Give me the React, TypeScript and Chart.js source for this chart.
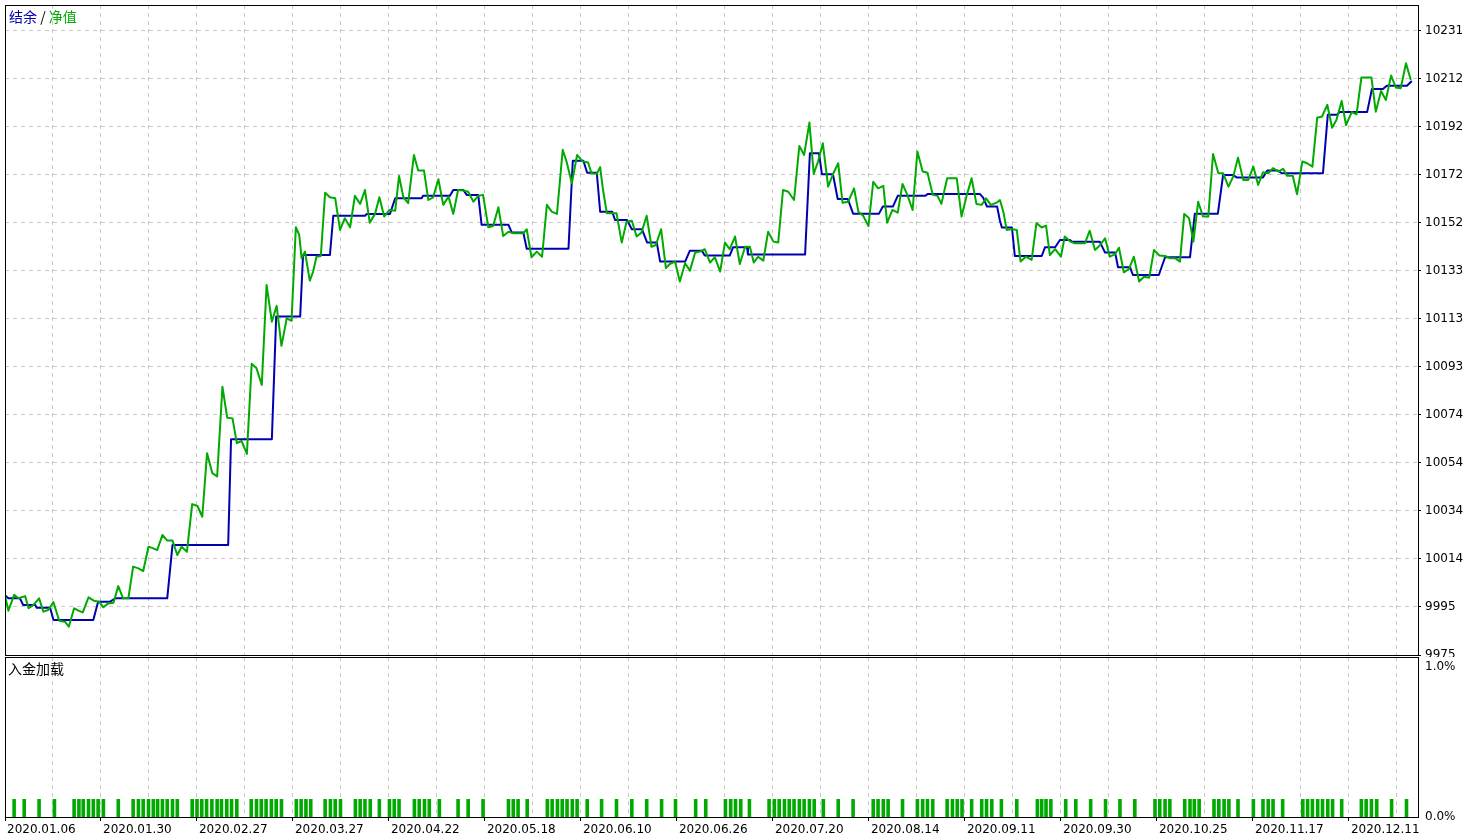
import React, { useEffect, useRef } from "react";
import { Chart, registerables } from "chart.js";

Chart.register(...registerables);

// ---------- data ----------
const dateLabels = [
  "2020.01.06", "2020.01.30", "2020.02.27", "2020.03.27", "2020.04.22",
  "2020.05.18", "2020.06.10", "2020.06.26", "2020.07.20", "2020.08.14",
  "2020.09.11", "2020.09.30", "2020.10.25", "2020.11.17", "2020.12.11",
];
const yTickLabels = [
  "9975", "9995", "10014", "10034", "10054", "10074", "10093",
  "10113", "10133", "10152", "10172", "10192", "10212", "10231",
];
const yTickStart = 9975.4;
const yTickStep = 19.72;
const yMax = 10242.4;
const loadTickLabels = ["0.0%", "1.0%"];
const tMax = 294.4; // time slots on the x axis
const depositLoadPct = 0.12;

// equity (净值): time slot, value
const equityT = [
  0.0, 0.7, 1.9, 2.8, 4.2, 4.9, 5.9, 7.1, 8.0, 9.0, 10.1, 11.3, 12.5, 13.3, 14.4, 15.3, 16.2, 17.4, 18.5, 19.6,
  20.5, 21.5, 22.6, 23.6, 24.6, 25.7, 26.7, 27.8, 28.8, 29.9, 30.9, 31.7, 32.8, 33.8, 34.9, 35.9, 36.8, 37.9, 39.0, 40.1,
  41.1, 42.1, 43.2, 44.2, 45.3, 46.3, 47.4, 48.3, 49.3, 50.4, 51.4, 52.4, 53.5, 54.5, 55.6, 56.6, 57.6, 58.7, 59.7, 60.6,
  61.3, 61.8, 62.5, 63.5, 64.2, 64.9, 65.8, 66.7, 67.7, 68.8, 69.8, 70.8, 71.9, 72.9, 74.0, 75.0, 76.0, 77.1, 78.0, 79.0,
  80.1, 81.3, 82.1, 83.0, 84.0, 85.2, 86.1, 87.3, 88.2, 89.2, 90.3, 91.3, 92.4, 93.4, 94.4, 95.5, 96.5, 97.6, 98.6, 99.6,
  100.7, 101.7, 102.8, 103.8, 104.9, 105.9, 106.9, 108.0, 108.7, 109.7, 110.8, 111.9, 112.9, 113.9, 115.0, 116.2, 117.0, 118.1, 119.2, 120.4,
  121.5, 122.2, 123.3, 124.0, 124.6, 125.4, 126.4, 127.4, 128.5, 129.5, 130.6, 131.6, 132.6, 133.7, 134.7, 135.6, 136.7, 137.7, 138.5, 139.6,
  140.6, 141.7, 142.7, 143.8, 144.8, 145.8, 146.9, 147.9, 149.0, 150.0, 151.0, 152.1, 153.1, 154.2, 155.2, 156.0, 156.9, 158.0, 159.0, 160.1,
  161.1, 162.1, 163.2, 164.4, 165.5, 166.5, 167.6, 168.5, 169.4, 170.4, 171.5, 172.6, 173.6, 174.5, 175.7, 176.9, 177.8, 178.8, 179.9, 180.9,
  181.9, 183.0, 183.8, 184.9, 186.0, 187.0, 188.0, 189.1, 190.1, 191.2, 192.2, 193.3, 194.3, 195.1, 196.3, 197.3, 198.3, 199.3, 200.4, 201.4,
  202.4, 203.5, 204.4, 205.4, 206.6, 207.3, 208.0, 208.7, 209.7, 210.8, 211.6, 212.7, 213.9, 214.9, 216.0, 216.9, 217.7, 218.8, 220.0, 220.8,
  222.0, 222.9, 224.0, 225.0, 226.0, 227.1, 228.1, 229.2, 230.2, 231.3, 232.1, 233.1, 234.2, 235.2, 236.3, 237.3, 238.4, 239.4, 240.5, 241.7,
  242.7, 243.8, 244.8, 245.7, 246.7, 247.6, 248.6, 249.6, 250.7, 251.7, 252.8, 253.8, 254.9, 255.9, 256.9, 258.0, 259.0, 260.1, 261.1, 262.1,
  263.2, 264.2, 265.3, 266.3, 267.1, 268.3, 269.2, 270.3, 271.3, 272.4, 273.4, 274.4, 275.5, 276.5, 277.4, 278.5, 279.4, 280.6, 281.6, 282.6,
  283.6, 284.7, 285.6, 286.7, 287.7, 288.8, 289.8, 290.8, 291.9, 292.9,
];
const equityValues = [
  10000.0, 9993.6, 10000.1, 9998.7, 9999.6, 9994.6, 9995.9, 9998.7, 9993.2, 9993.9, 9997.1, 9989.5, 9989.1, 9987.0, 9994.6, 9993.6, 9992.9, 9999.1, 9997.7, 9997.3,
  9995.0, 9996.6, 9996.9, 10003.7, 9998.7, 9998.7, 10011.7, 10011.0, 10009.9, 10019.9, 10019.2, 10018.5, 10024.7, 10022.4, 10022.4, 10016.5, 10019.9, 10017.8, 10037.4, 10036.6,
  10032.2, 10058.3, 10050.1, 10048.7, 10085.6, 10072.9, 10072.6, 10062.4, 10063.3, 10058.0, 10095.0, 10093.2, 10086.3, 10127.4, 10112.3, 10118.8, 10102.4, 10113.7, 10112.7, 10151.1,
  10148.0, 10138.4, 10141.1, 10129.2, 10132.9, 10139.0, 10139.3, 10165.3, 10163.4, 10163.0, 10150.0, 10154.8, 10151.1, 10164.0, 10160.7, 10166.4, 10153.0, 10156.6, 10163.4, 10155.5,
  10158.2, 10157.9, 10172.2, 10163.4, 10161.0, 10180.8, 10174.4, 10174.4, 10162.3, 10163.4, 10170.8, 10160.3, 10163.7, 10156.6, 10166.4, 10166.2, 10165.7, 10161.6, 10164.0, 10164.4,
  10151.1, 10151.6, 10159.3, 10147.5, 10149.3, 10148.6, 10148.6, 10148.6, 10150.3, 10138.8, 10141.1, 10139.0, 10160.3, 10157.5, 10156.6, 10182.9, 10178.1, 10169.2, 10180.8, 10178.1,
  10177.7, 10173.3, 10173.0, 10175.8, 10166.4, 10156.9, 10156.9, 10156.9, 10144.8, 10153.4, 10153.8, 10147.3, 10148.9, 10155.8, 10143.1, 10143.8, 10150.3, 10134.3, 10136.0, 10137.0,
  10128.8, 10136.3, 10133.3, 10140.7, 10141.1, 10142.1, 10136.6, 10138.8, 10132.9, 10144.8, 10142.1, 10147.3, 10136.0, 10143.1, 10143.1, 10136.6, 10139.0, 10137.4, 10149.3, 10145.2,
  10144.8, 10166.4, 10165.7, 10162.3, 10184.5, 10180.8, 10194.1, 10173.0, 10178.1, 10185.6, 10167.8, 10173.3, 10177.4, 10161.2, 10161.6, 10167.1, 10157.5, 10155.8, 10151.6, 10169.8,
  10167.1, 10168.1, 10153.0, 10158.2, 10157.1, 10168.9, 10164.4, 10158.2, 10182.2, 10174.0, 10173.5, 10164.4, 10164.0, 10160.7, 10171.2, 10171.2, 10171.2, 10155.5, 10164.4, 10171.2,
  10160.7, 10160.3, 10163.0, 10160.3, 10161.2, 10162.3, 10157.5, 10150.0, 10150.4, 10150.0, 10137.0, 10139.0, 10137.7, 10152.8, 10151.0, 10151.8, 10139.7, 10142.1, 10139.0, 10147.3,
  10145.2, 10144.5, 10144.5, 10144.5, 10149.7, 10141.8, 10143.6, 10146.6, 10139.0, 10140.1, 10142.7, 10132.6, 10134.0, 10139.0, 10128.8, 10130.8, 10130.4, 10141.8, 10139.5, 10139.3,
  10138.4, 10138.4, 10137.0, 10156.6, 10154.8, 10145.2, 10161.6, 10155.5, 10155.5, 10181.2, 10173.3, 10173.3, 10167.8, 10171.9, 10179.7, 10170.5, 10170.5, 10176.0, 10168.5, 10173.7,
  10173.3, 10175.4, 10174.0, 10175.1, 10172.3, 10172.3, 10164.7, 10178.1, 10177.4, 10176.0, 10196.1, 10196.6, 10201.4, 10192.0, 10195.2, 10203.0, 10193.1, 10198.4, 10197.5, 10212.6,
  10212.6, 10212.6, 10198.6, 10207.1, 10203.4, 10213.4, 10208.5, 10208.2, 10218.5, 10211.6,
];

// balance (结余): time slot, value
const balanceT = [
  0.0, 0.7, 3.1, 3.8, 6.3, 6.6, 9.4, 10.1, 18.4, 19.4, 21.9, 23.0, 33.8, 34.9, 46.5, 47.1, 55.6, 56.5, 61.5, 62.1,
  67.7, 68.4, 75.0, 75.4, 80.2, 81.3, 86.8, 87.1, 92.7, 93.4, 95.5, 96.2, 98.6, 99.3, 104.9, 105.6, 108.0, 108.7, 117.4, 118.3,
  120.5, 121.3, 123.3, 124.0, 126.5, 127.1, 129.6, 130.6, 132.7, 133.8, 135.8, 136.5, 141.7, 142.7, 145.2, 145.8, 151.0, 151.7, 154.6, 154.8,
  166.7, 167.7, 169.6, 170.2, 172.5, 173.5, 175.6, 176.7, 182.1, 182.9, 185.0, 186.0, 191.7, 192.3, 203.1, 203.8, 204.6, 206.7, 207.3, 207.7,
  209.8, 210.4, 216.0, 216.7, 218.8, 219.8, 221.9, 222.3, 228.1, 229.2, 231.3, 231.9, 234.4, 235.0, 240.4, 241.7, 246.9, 247.9, 252.7, 253.8,
  255.8, 256.7, 262.1, 263.0, 265.2, 266.0, 274.6, 275.6, 277.5, 278.1, 283.8, 284.8, 287.1, 287.9, 292.1, 293.1,
];
const balanceValues = [
  10000.0, 9998.7, 9998.7, 9995.9, 9995.9, 9994.8, 9994.8, 9989.8, 9989.8, 9997.3, 9997.3, 9998.7, 9998.7, 10020.6, 10020.6, 10064.0, 10064.0, 10114.4, 10114.4, 10139.7,
  10139.7, 10155.8, 10155.8, 10156.6, 10156.6, 10163.0, 10163.0, 10164.0, 10164.0, 10166.4, 10166.4, 10164.4, 10164.4, 10152.1, 10152.1, 10148.9, 10148.9, 10142.3, 10142.3, 10178.4,
  10178.4, 10173.5, 10173.5, 10157.5, 10157.5, 10154.1, 10154.1, 10150.3, 10150.3, 10144.8, 10144.8, 10137.0, 10137.0, 10141.5, 10141.5, 10139.5, 10139.5, 10142.9, 10142.9, 10139.9,
  10139.9, 10181.5, 10181.5, 10172.9, 10172.9, 10162.7, 10162.7, 10156.7, 10156.7, 10159.6, 10159.6, 10164.0, 10164.0, 10164.8, 10164.8, 10163.3, 10159.6, 10159.6, 10153.8, 10151.0,
  10151.0, 10139.3, 10139.3, 10142.9, 10142.9, 10145.9, 10145.9, 10145.2, 10145.2, 10140.7, 10140.7, 10134.7, 10134.7, 10131.5, 10131.5, 10138.8, 10138.8, 10156.7, 10156.7, 10172.6,
  10172.6, 10171.5, 10171.5, 10174.4, 10174.4, 10173.3, 10173.3, 10197.3, 10197.3, 10198.4, 10198.4, 10207.9, 10207.9, 10209.2, 10209.2, 10211.2,
];

// deposit load (入金加载) bars: time slots
const loadT = [
  1.9, 4.0, 7.1, 10.3, 14.4, 15.4, 16.3, 17.4, 18.4, 19.4, 20.5, 23.6, 26.7, 27.8, 28.8, 29.9, 30.9, 31.8, 32.8, 33.8,
  34.9, 35.9, 39.0, 40.0, 41.0, 42.0, 43.1, 44.2, 45.1, 46.2, 47.2, 48.3, 51.3, 52.4, 53.4, 54.4, 55.5, 56.5, 57.6, 60.7,
  61.7, 62.7, 63.7, 66.7, 67.8, 68.8, 69.9, 73.0, 74.0, 75.0, 76.1, 78.0, 80.1, 81.1, 82.1, 85.3, 86.3, 87.4, 88.4, 90.5,
  94.4, 96.5, 99.6, 104.9, 105.9, 106.9, 108.8, 113.0, 114.0, 115.1, 116.1, 117.1, 118.2, 119.2, 121.3, 124.3, 127.4, 130.6, 133.7, 136.8,
  139.7, 143.9, 146.0, 150.1, 151.2, 152.2, 153.3, 155.1, 159.2, 160.3, 161.3, 162.4, 163.4, 164.4, 165.5, 166.5, 167.6, 168.6, 170.5, 173.6,
  176.7, 180.9, 181.9, 183.0, 184.0, 187.0, 190.1, 191.2, 192.2, 193.3, 196.3, 197.4, 198.4, 199.4, 201.4, 203.5, 204.5, 205.6, 207.6, 210.8,
  215.1, 216.0, 216.9, 217.9, 221.0, 223.1, 226.2, 229.3, 232.3, 235.4, 239.6, 240.6, 241.7, 242.7, 245.8, 246.9, 247.8, 248.8, 251.9, 252.9,
  254.0, 255.0, 256.9, 260.1, 262.1, 263.2, 264.2, 266.2, 270.4, 271.4, 272.4, 273.5, 274.5, 275.6, 276.6, 278.5, 282.6, 283.6, 284.7, 285.8,
  288.9, 292.0,
];

// ---------- styling ----------
const FONT = "'DejaVu Sans', 'Liberation Sans', sans-serif";
const CJK = "'Noto Sans CJK SC', sans-serif";
const GREEN = "#00AA00";
const BLUE = "#0000B0";
const GRID = "#c8c8c8";
const DASH = [4, 4];
const AXIS_W = 65;

const framePlugin = {
  id: "frame",
  afterDraw(chart: any) {
    const { ctx, chartArea: a } = chart;
    ctx.save();
    ctx.strokeStyle = "#000";
    ctx.lineWidth = 1;
    ctx.setLineDash([]);
    ctx.strokeRect(
      Math.round(a.left) + 0.5,
      Math.round(a.top) + 0.5,
      Math.round(a.right - a.left),
      Math.round(a.bottom - a.top)
    );
    ctx.restore();
  },
};

const xGridTicks = (s: any) => {
  const arr: any[] = [];
  for (let v = 0; v <= 290; v += 10) arr.push({ value: v });
  s.ticks = arr;
};

const noPad = (s: any) => {
  s.paddingTop = 0;
  s.paddingBottom = 0;
  s.paddingLeft = 0;
  s.paddingRight = 0;
};

export default function App() {
  const mainRef = useRef<HTMLCanvasElement>(null);
  const loadRef = useRef<HTMLCanvasElement>(null);

  useEffect(() => {
    const mainLegend = {
      id: "mainLegend",
      afterDraw(chart: any) {
        const ctx = chart.ctx;
        ctx.save();
        ctx.font = `14px ${CJK}`;
        ctx.textBaseline = "middle";
        ctx.textAlign = "left";
        let x = 9;
        const y = 17;
        ctx.fillStyle = BLUE;
        ctx.fillText("结余", x, y);
        x += ctx.measureText("结余").width;
        ctx.fillStyle = "#000";
        ctx.fillText(" / ", x, y);
        x += ctx.measureText(" / ").width;
        ctx.fillStyle = GREEN;
        ctx.fillText("净值", x, y);
        ctx.restore();
      },
    };

    const main = new Chart(mainRef.current as HTMLCanvasElement, {
      type: "line",
      data: {
        datasets: [
          {
            label: "净值",
            data: equityT.map((t, i) => ({ x: t, y: equityValues[i] })),
            borderColor: GREEN,
            backgroundColor: GREEN,
            borderWidth: 2,
            pointRadius: 0,
            tension: 0,
            borderJoinStyle: "round",
          },
          {
            label: "结余",
            data: balanceT.map((t, i) => ({ x: t, y: balanceValues[i] })),
            borderColor: BLUE,
            backgroundColor: BLUE,
            borderWidth: 2,
            pointRadius: 0,
            tension: 0,
            borderJoinStyle: "round",
          },
        ],
      },
      options: {
        responsive: false,
        animation: false,
        layout: { padding: { left: 5, top: 5, right: 0, bottom: 2 } },
        plugins: { legend: { display: false }, tooltip: { enabled: false } },
        scales: {
          x: {
            type: "linear",
            min: 0,
            max: tMax,
            afterBuildTicks: xGridTicks,
            afterFit: (s: any) => {
              s.height = 0;
              noPad(s);
            },
            ticks: { display: false },
            grid: { color: GRID, drawTicks: false, offset: false },
            border: { display: false, dash: DASH },
          },
          y: {
            type: "linear",
            position: "right",
            min: yTickStart,
            max: yMax,
            afterBuildTicks: (s: any) => {
              s.ticks = yTickLabels.map((_, k) => ({ value: yTickStart + k * yTickStep }));
            },
            afterFit: (s: any) => {
              s.width = AXIS_W;
              noPad(s);
            },
            ticks: {
              autoSkip: false,
              callback: (_v: any, i: number) => yTickLabels[i],
              font: { family: FONT, size: 12 },
              color: "#000",
              padding: 4,
            },
            grid: { color: GRID, tickColor: "#000", tickLength: 3 },
            border: { display: false, dash: DASH },
          },
        },
      },
      plugins: [framePlugin, mainLegend],
    } as any);

    const loadLegend = {
      id: "loadLegend",
      afterDraw(chart: any) {
        const ctx = chart.ctx;
        ctx.save();
        ctx.font = `14px ${CJK}`;
        ctx.textBaseline = "middle";
        ctx.textAlign = "left";
        ctx.fillStyle = "#000";
        ctx.fillText("入金加载", 8, 12);
        ctx.restore();
      },
    };

    const load = new Chart(loadRef.current as HTMLCanvasElement, {
      type: "bar",
      data: {
        datasets: [
          {
            label: "入金加载",
            data: loadT.map((t) => ({ x: t, y: depositLoadPct })),
            backgroundColor: GREEN,
            borderWidth: 0,
            barThickness: 3.6,
            inflateAmount: 0,
          },
        ],
      },
      options: {
        responsive: false,
        animation: false,
        layout: { padding: { left: 5, top: 0, right: 0, bottom: 0 } },
        plugins: { legend: { display: false }, tooltip: { enabled: false } },
        scales: {
          x: {
            type: "linear",
            min: 0,
            max: tMax,
            offset: false,
            afterBuildTicks: xGridTicks,
            afterFit: (s: any) => {
              s.height = 23;
              noPad(s);
            },
            ticks: {
              autoSkip: false,
              maxRotation: 0,
              minRotation: 0,
              align: "start",
              labelOffset: 2,
              padding: 2,
              callback: (v: any) => (v % 20 === 0 ? dateLabels[v / 20] : ""),
              font: { family: FONT, size: 12 },
              color: "#000",
            },
            grid: {
              offset: false,
              color: GRID,
              tickColor: (c: any) => (c.tick && c.tick.value % 20 === 0 ? "#000" : "rgba(0,0,0,0)"),
              tickLength: 4,
            },
            border: { display: false, dash: DASH },
          },
          y: {
            type: "linear",
            position: "right",
            min: 0,
            max: 1.0667,
            afterBuildTicks: (s: any) => {
              s.ticks = [{ value: 0 }, { value: 1 }];
            },
            afterFit: (s: any) => {
              s.width = AXIS_W;
              noPad(s);
            },
            ticks: {
              autoSkip: false,
              callback: (_v: any, i: number) => loadTickLabels[i],
              font: { family: FONT, size: 12 },
              color: "#000",
              padding: 7,
            },
            grid: { display: false, drawTicks: false },
            border: { display: false },
          },
        },
      },
      plugins: [framePlugin, loadLegend],
    } as any);

    return () => {
      main.destroy();
      load.destroy();
    };
  }, []);

  return (
    <div
      style={{
        position: "fixed",
        left: 0,
        top: 0,
        width: 1483,
        height: 840,
        background: "#fff",
        overflow: "hidden",
      }}
    >
      <canvas
        ref={mainRef}
        width={1483}
        height={657}
        style={{ position: "absolute", left: 0, top: 0, width: 1483, height: 657 }}
      />
      <canvas
        ref={loadRef}
        width={1483}
        height={183}
        style={{ position: "absolute", left: 0, top: 657, width: 1483, height: 183 }}
      />
    </div>
  );
}
